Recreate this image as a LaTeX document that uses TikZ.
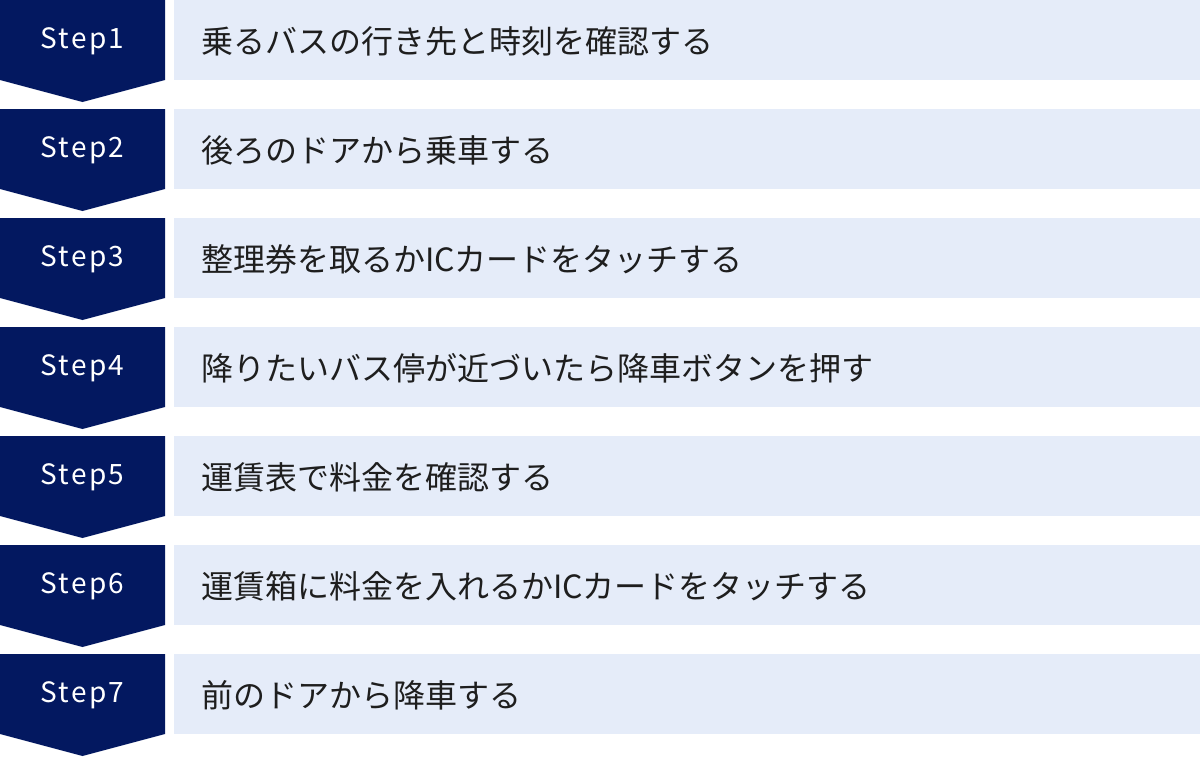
\documentclass[tikz,border=0pt]{standalone}
\usepackage{fontspec}
\setmainfont{Noto Sans CJK JP}
\newfontfamily\stepfont[LetterSpace=8]{Noto Sans CJK JP}
\usepackage{tikz}
\usetikzlibrary{positioning}
\definecolor{StepNavy}{RGB}{3, 24, 96}
\definecolor{RowBlue}{RGB}{229, 236, 249}
\definecolor{InkGrey}{RGB}{30, 30, 30}

\begin{document}
\begin{tikzpicture}[x=1pt, y=-1pt,
    chevron/.style={fill=StepNavy},
    steplabel/.style={text=white, font=\stepfont\fontsize{28}{28}\selectfont, inner sep=0pt},
    rowbox/.style={fill=RowBlue, minimum width=1026pt, minimum height=80pt, inner sep=0pt, anchor=north west},
    rowtext/.style={text=InkGrey, font=\fontsize{32}{32}\selectfont, inner sep=0pt, anchor=west}]
    \useasboundingbox (0,0) rectangle (1200,756);

    % Step 1
    \fill[chevron] (0,0) -- (165,0) -- (165,80) -- (82.5,102) -- (0,80) -- cycle;
    \node[steplabel] (s1) at (82.5,41) {Step1};
    \node[rowbox] (r1) at (174,0) {};
    \node[rowtext] (t1) at (201,41) {乗るバスの行き先と時刻を確認する};

    % Step 2
    \fill[chevron] (0,109) -- (165,109) -- (165,189) -- (82.5,211) -- (0,189) -- cycle;
    \node[steplabel] (s2) at (82.5,150) {Step2};
    \node[rowbox] (r2) at (174,109) {};
    \node[rowtext] (t2) at (201,150) {後ろのドアから乗車する};

    % Step 3
    \fill[chevron] (0,218) -- (165,218) -- (165,298) -- (82.5,320) -- (0,298) -- cycle;
    \node[steplabel] (s3) at (82.5,259) {Step3};
    \node[rowbox] (r3) at (174,218) {};
    \node[rowtext] (t3) at (201,259) {整理券を取るかICカードをタッチする};

    % Step 4
    \fill[chevron] (0,327) -- (165,327) -- (165,407) -- (82.5,429) -- (0,407) -- cycle;
    \node[steplabel] (s4) at (82.5,368) {Step4};
    \node[rowbox] (r4) at (174,327) {};
    \node[rowtext] (t4) at (201,368) {降りたいバス停が近づいたら降車ボタンを押す};

    % Step 5
    \fill[chevron] (0,436) -- (165,436) -- (165,516) -- (82.5,538) -- (0,516) -- cycle;
    \node[steplabel] (s5) at (82.5,477) {Step5};
    \node[rowbox] (r5) at (174,436) {};
    \node[rowtext] (t5) at (201,477) {運賃表で料金を確認する};

    % Step 6
    \fill[chevron] (0,545) -- (165,545) -- (165,625) -- (82.5,647) -- (0,625) -- cycle;
    \node[steplabel] (s6) at (82.5,586) {Step6};
    \node[rowbox] (r6) at (174,545) {};
    \node[rowtext] (t6) at (201,586) {運賃箱に料金を入れるかICカードをタッチする};

    % Step 7
    \fill[chevron] (0,654) -- (165,654) -- (165,734) -- (82.5,756) -- (0,734) -- cycle;
    \node[steplabel] (s7) at (82.5,695) {Step7};
    \node[rowbox] (r7) at (174,654) {};
    \node[rowtext] (t7) at (201,695) {前のドアから降車する};
\end{tikzpicture}
\end{document}
